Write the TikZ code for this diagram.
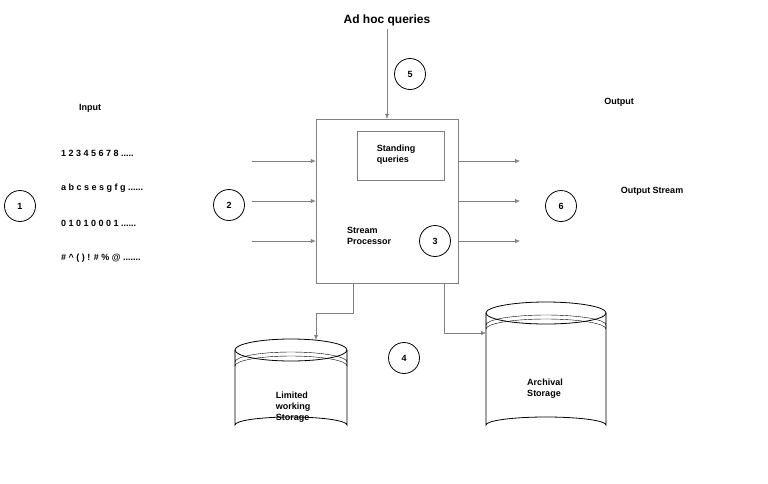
\documentclass[tikz,border=0pt]{standalone}
\usepackage{fontspec}
\setmainfont{Liberation Sans}
\usetikzlibrary{arrows.meta}
\begin{document}
\begin{tikzpicture}[x=1pt,y=-1pt,
  lbl/.style={font=\bfseries\fontsize{9}{11}\selectfont,inner sep=0pt},
  num/.style={circle,draw,thick,minimum size=31pt,inner sep=0pt,font=\bfseries\fontsize{9}{11}\selectfont},
  arr/.style={draw=gray,-{Latex[length=5pt,width=4pt]}},
  con/.style={draw=gray}]
\useasboundingbox (0,0) rectangle (768,483);
\node[font=\bfseries\fontsize{12}{14}\selectfont] (adhoc) at (387,20) {Ad hoc queries};
\node[draw,gray,minimum width=142pt,minimum height=164pt,inner sep=0pt] (sp) at (387,201) {};
\node[draw,gray,minimum width=87pt,minimum height=49pt,inner sep=0pt] (sq) at (400.5,155.5) {};
\node[lbl,align=left] at (396,155) {Standing\\queries};
\node[lbl,align=left,anchor=west] (spt) at (347,236) {Stream\\Processor};
\draw[arr] (adhoc.south) -- (sp.north);
\node[num] (c5) at (410,74) {5};
\node[num] (c3) at (435,241) {3};
\node[num] (c1) at (20,206) {1};
\node[num] (c2) at (229,205) {2};
\node[num] (c6) at (561,206) {6};
\node[num] (c4) at (404,358) {4};
\node[lbl] (inp) at (90,108) {Input};
\node[lbl] (out) at (619,102) {Output};
\node[lbl] (outs) at (652,191) {Output Stream};
\node[lbl,anchor=west] (l1) at (61,153) {1 2 3 4 5 6 7 8 .....};
\node[lbl,anchor=west] (l2) at (61,188) {a b c s e s g f g ......};
\node[lbl,anchor=west] (l3) at (61,223) {0 1 0 1 0 0 0 1 ......};
\node[lbl,anchor=west] (l4) at (61,258) {\# \^{} ( ) ! \# \% @ .......};
\foreach \y/\n in {161/a,201/b,241/c}{
  \coordinate (i\n) at (252,\y); \coordinate (ie\n) at (sp.west |- 0,\y);
  \draw[arr] (i\n) -- (ie\n);
  \coordinate (o\n) at (sp.east |- 0,\y); \coordinate (oe\n) at (520,\y);
  \draw[arr] (o\n) -- (oe\n);}
% cylinders
\newcommand{\cyl}[5]{% cx, top y, bottom y, rx, name
  \draw[thick] (#1-#4,#2) -- (#1-#4,#3) arc[start angle=180,end angle=360,x radius=#4,y radius=8] -- (#1+#4,#2);
  \draw[thick] (#1,#2) ellipse[x radius=#4,y radius=11];
  \draw (#1-#4,#2) -- (#1-#4,#2+12) arc[start angle=180,end angle=360,x radius=#4,y radius=10] -- (#1+#4,#2);
  \draw (#1-#4,#2+12) -- (#1-#4,#2+16) arc[start angle=180,end angle=360,x radius=#4,y radius=10] -- (#1+#4,#2+12);
  \coordinate (#5) at (#1,#2-11);}
\cyl{291}{350}{425}{56}{lwtop}
\cyl{546}{313}{425}{60}{artop}
\node[lbl,align=left] (lw) at (293,407) {Limited\\working\\Storage};
\node[lbl,align=left] (ar) at (545,389) {Archival\\Storage};
\coordinate (b1) at (353,283);
\coordinate (b2) at (444,283);
\coordinate (lwin) at (316,340);
\coordinate (arin) at (486,333);
\draw[con,-{Latex[length=5pt,width=4pt]}] (b1) |- (316,313) -- (lwin);
\draw[con,-{Latex[length=5pt,width=4pt]}] (b2) |- (arin);
\end{tikzpicture}
\end{document}
